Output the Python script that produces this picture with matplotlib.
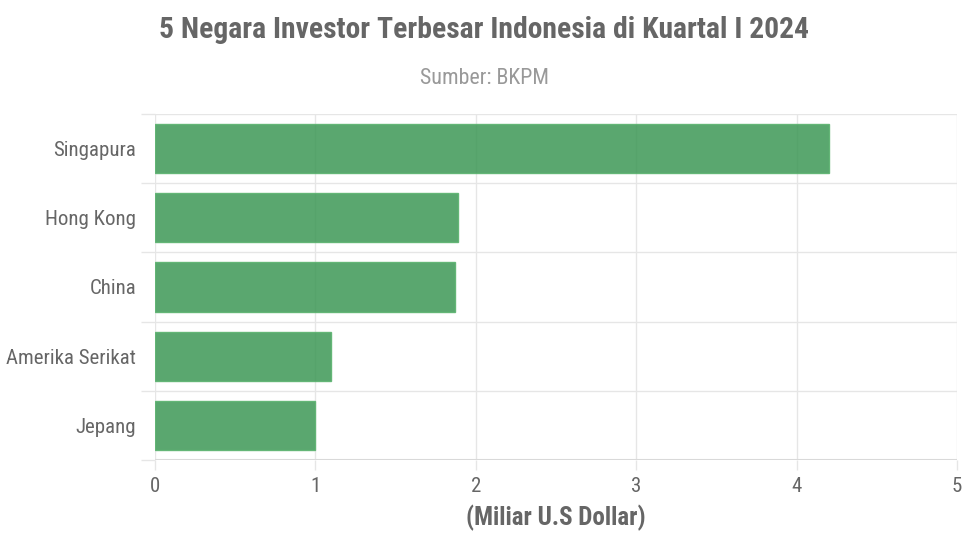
import matplotlib
matplotlib.use("Agg")
import matplotlib.pyplot as plt

# data
negara = ["Singapura", "Hong Kong", "China", "Amerika Serikat", "Jepang"]
investasi = [4.2, 1.89, 1.87, 1.1, 1.0]
x_ticks = [0, 1, 2, 3, 4, 5]

judul = "5 Negara Investor Terbesar Indonesia di Kuartal I 2024"
sumber = "Sumber: BKPM"
label_x = "(Miliar U.S Dollar)"

plt.rcParams['font.family'] = ['Roboto Condensed', 'DejaVu Sans']

fig = plt.figure(figsize=(9.68, 5.43), dpi=100)
ax = fig.add_axes([155/968, 83/543, 802/968, 346/543])

pos = list(range(len(negara)))
# slightly see-through bars, grid shows through like in the original
ax.barh(pos, investasi, height=0.71, color=(0.24, 0.596, 0.337, 0.85),
        edgecolor=(0.36, 0.70, 0.44, 0.9), linewidth=1, zorder=2)

ax.set_xlim(0, 5)
ax.set_ylim(len(negara) - 0.5, -0.5)
ax.set_xticks(x_ticks)
ax.set_xticklabels([str(t) for t in x_ticks])
ax.set_yticks(pos)
ax.set_yticklabels(negara)
ax.set_yticks([i - 0.5 for i in range(len(negara) + 1)], minor=True)

# grid lines on category borders, like chart.js
ax.grid(axis='y', which='minor', color='#e6e6e6', lw=1, zorder=1)
ax.grid(axis='x', which='major', color='#e6e6e6', lw=1, zorder=1)
ax.set_axisbelow(True)

for s in ax.spines.values():
    s.set_visible(False)
ax.axhline(len(negara) - 0.5, color='#d9d9d9', lw=1.5, zorder=3)

ax.tick_params(axis='x', length=7.5, width=1, color='#e6e6e6', labelsize=15,
               labelcolor='#666666', pad=5)
ax.tick_params(axis='y', which='major', length=0, labelsize=15, labelcolor='#666666', pad=13.5)
ax.tick_params(axis='y', which='minor', length=10, width=1, color='#e6e6e6')

ax.set_xlabel(label_x, fontsize=18, fontweight='bold', color='#666666', labelpad=6)

fig.text(484/968, 1 - 30/543, judul, ha='center', va='center', fontsize=21.3,
         fontweight='bold', color='#666666')
fig.text(484/968, 1 - 78/543, sumber, ha='center', va='center', fontsize=15.8,
         color='#999999')

fig.savefig("out.png", dpi=100)
